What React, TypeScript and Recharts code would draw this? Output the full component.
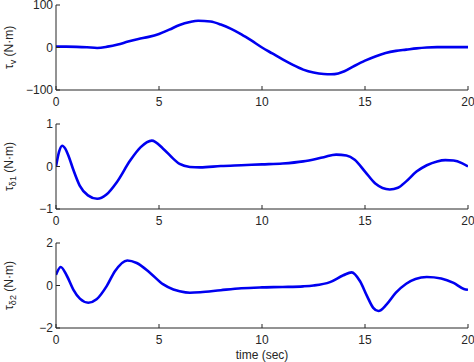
import React from 'react';
import { LineChart, Line, XAxis, YAxis } from 'recharts';

// time ticks shared by all panels
const timeTicks = [0, 5, 10, 15, 20];

// tau_v (N·m)
const tvTime = [0, 0.5, 1, 1.5, 2, 2.5, 3, 3.5, 4, 4.5, 5, 5.5, 6, 6.5, 6.9, 7.5, 8, 8.5, 9, 9.5, 10, 10.5, 11, 11.5, 12, 12.5, 13, 13.35, 13.7, 14, 14.5, 15, 15.5, 16, 16.5, 17, 17.5, 18, 18.5, 19, 19.5, 20];
const tvVals = [2, 2, 1.5, 0.5, -1, 2, 7, 14, 20, 25, 32, 42, 53, 60, 63, 61, 54, 44, 31, 16, 0, -14, -28, -41, -52, -59, -62.5, -63, -61, -56, -43, -31, -21, -13, -8, -5, -2, 0, 1, 1, 1, 1];
const tvTicks = [-100, 0, 100];

// tau_delta1 (N·m)
const td1Time = [0, 0.15, 0.3, 0.45, 0.6, 0.85, 1.15, 1.55, 2, 2.45, 2.95, 3.6, 4.1, 4.65, 5.2, 5.7, 6, 6.5, 7, 8, 9, 10, 11, 12, 13, 13.6, 14.1, 14.5, 15, 15.5, 16.2, 16.6, 17, 17.5, 18, 18.5, 18.9, 19.3, 19.7, 20];
const td1Vals = [0, 0.35, 0.49, 0.42, 0.26, -0.09, -0.45, -0.68, -0.76, -0.66, -0.37, 0.14, 0.45, 0.61, 0.42, 0.18, 0.06, -0.01, -0.02, 0.01, 0.03, 0.05, 0.07, 0.12, 0.22, 0.28, 0.26, 0.16, -0.12, -0.4, -0.54, -0.5, -0.35, -0.12, 0.03, 0.12, 0.15, 0.14, 0.08, 0];
const td1Ticks = [-1, 0, 1];

// tau_delta2 (N·m)
const td2Time = [0, 0.23, 0.52, 0.84, 1.16, 1.57, 1.97, 2.46, 2.86, 3.46, 3.92, 4.57, 5.21, 5.7, 6, 6.5, 7, 8, 9, 10, 11, 12, 12.5, 13.3, 13.95, 14.35, 14.76, 15.1, 15.4, 15.65, 16.05, 16.5, 17, 17.45, 18, 18.7, 19.3, 19.8, 20];
const td2Vals = [0.5, 0.87, 0.47, -0.19, -0.62, -0.81, -0.65, -0.03, 0.67, 1.18, 1.06, 0.59, 0.05, -0.19, -0.27, -0.34, -0.32, -0.22, -0.13, -0.09, -0.07, -0.04, 0, 0.16, 0.48, 0.62, 0.2, -0.5, -1.05, -1.2, -0.89, -0.34, 0.08, 0.31, 0.4, 0.33, 0.12, -0.16, -0.2];
const td2Ticks = [-2, 0, 2];

const font = 'Liberation Sans, Arial, Helvetica, sans-serif';
const ink = '#262626';
const tickFont = { fontSize: 12, fill: ink, fontFamily: font };
const pad = 12; // room above each plot so the top tick label is not clipped

const fmt = (v: number) => (v < 0 ? '\u2212' + Math.abs(v) : String(v));
const blank = () => '';

const makeRows = (ts: number[], vs: number[]) => ts.map((t, i) => ({ t, v: vs[i] }));

const YLabel = ({ viewBox, sub }: any) => {
  const cy = viewBox.y + viewBox.height / 2;
  return (
    <text
      transform={`translate(13, ${cy}) rotate(-90)`}
      textAnchor="middle"
      fontSize={12}
      fontFamily={font}
      fill={ink}
    >
      τ<tspan fontSize={9} dy={3}>{sub}</tspan>
      <tspan dy={-3}> (N·m)</tspan>
    </text>
  );
};

const TimeLabel = ({ viewBox }: any) => (
  <text
    x={viewBox.x + viewBox.width / 2}
    y={viewBox.y + 31}
    textAnchor="middle"
    fontSize={12}
    fontFamily={font}
    fill={ink}
  >
    time (sec)
  </text>
);

const Panel = ({ top, rows, domain, ticks, sub, showTime }: any) => (
  <div style={{ position: 'absolute', left: 0, top: top - pad }}>
    <LineChart width={480} height={pad + 85 + (showTime ? 45 : 30)} data={rows} margin={{ top: pad, right: 12, left: 0, bottom: 0 }}>
      <XAxis
        xAxisId="b"
        dataKey="t"
        type="number"
        domain={[0, 20]}
        ticks={timeTicks}
        interval={0}
        allowDataOverflow
        height={showTime ? 45 : 30}
        tick={tickFont}
        tickSize={-4}
        tickMargin={11}
        stroke={ink}
        label={showTime ? <TimeLabel /> : undefined}
      />
      <XAxis
        xAxisId="t"
        orientation="top"
        type="number"
        domain={[0, 20]}
        ticks={timeTicks}
        interval={0}
        allowDataOverflow
        height={0}
        tickSize={-4}
        tickFormatter={blank}
        stroke={ink}
      />
      <YAxis
        yAxisId="l"
        type="number"
        domain={domain}
        ticks={ticks}
        interval={0}
        allowDataOverflow
        width={56}
        tick={tickFont}
        tickSize={-4}
        tickMargin={7}
        tickFormatter={fmt}
        stroke={ink}
        label={<YLabel sub={sub} />}
      />
      <YAxis
        yAxisId="r"
        orientation="right"
        type="number"
        domain={domain}
        ticks={ticks}
        interval={0}
        allowDataOverflow
        width={0}
        tickSize={-4}
        tickFormatter={blank}
        stroke={ink}
      />
      <Line
        xAxisId="b"
        yAxisId="l"
        dataKey="v"
        type="monotone"
        stroke="#0000f0"
        strokeWidth={2.6}
        dot={false}
        isAnimationActive={false}
      />
    </LineChart>
  </div>
);

export default function App() {
  return (
    <div style={{ position: 'absolute', left: 0, top: 0, width: 474, height: 362, overflow: 'hidden', background: '#fff' }}>
      <Panel top={5} rows={makeRows(tvTime, tvVals)} domain={[-100, 100]} ticks={tvTicks} sub="v" />
      <Panel top={124} rows={makeRows(td1Time, td1Vals)} domain={[-1, 1]} ticks={td1Ticks} sub="δ1" />
      <Panel top={243} rows={makeRows(td2Time, td2Vals)} domain={[-2, 2]} ticks={td2Ticks} sub="δ2" showTime />
    </div>
  );
}
